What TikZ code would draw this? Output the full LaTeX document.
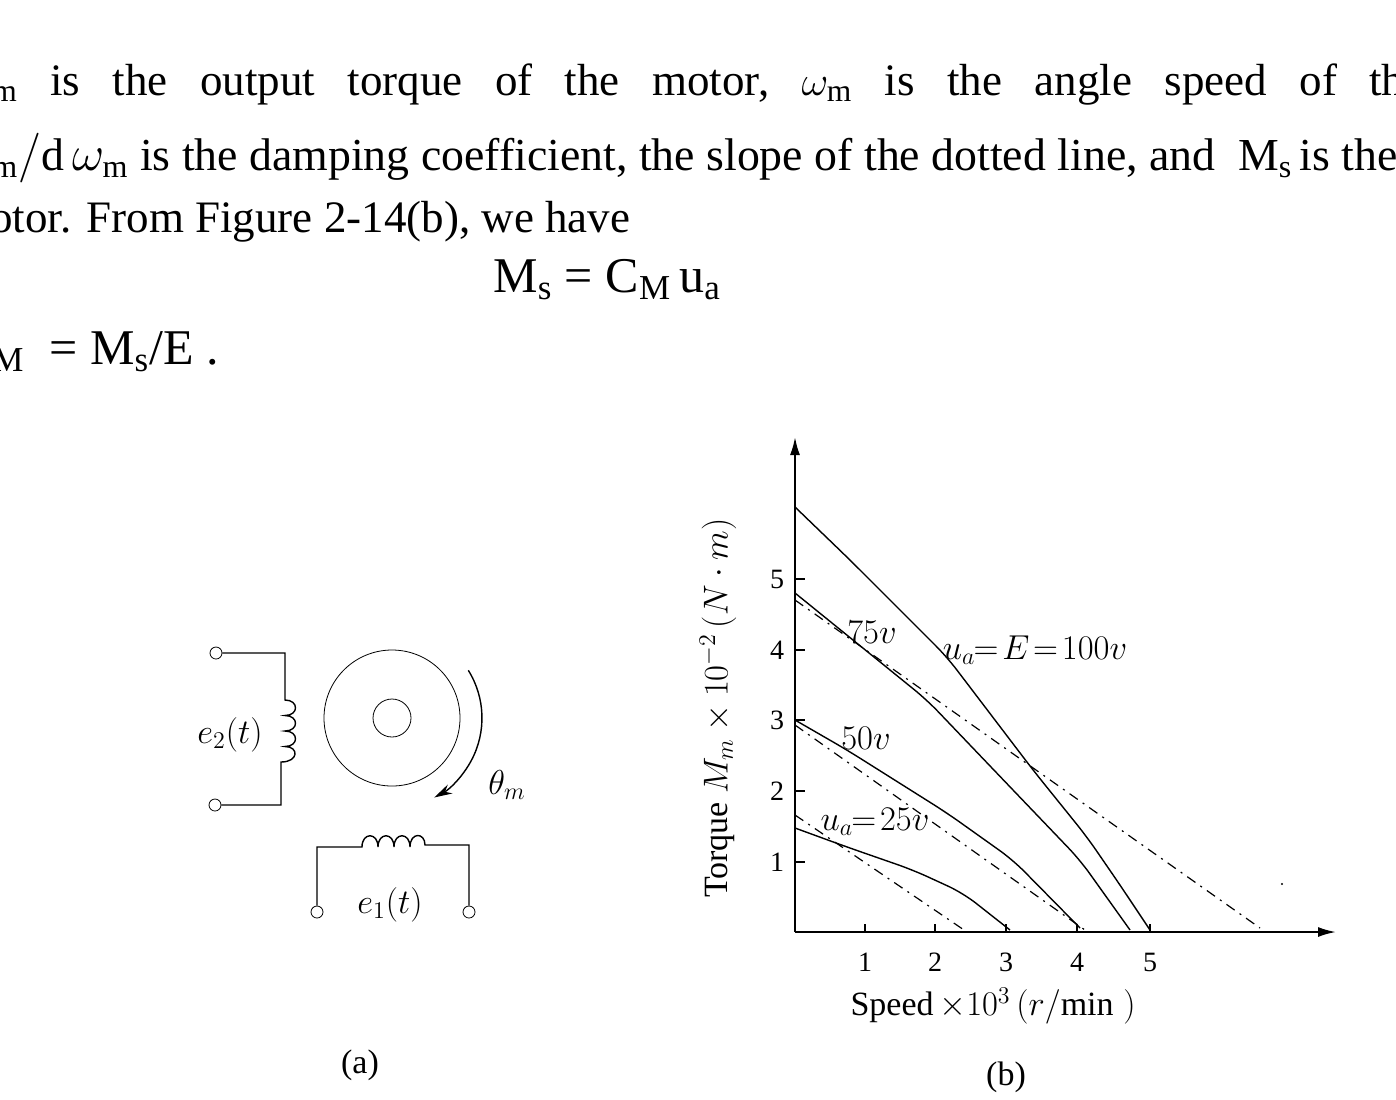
\documentclass[tikz,border=0pt]{standalone}
\usepackage{fontspec}
\setmainfont{Liberation Serif}
\usetikzlibrary{arrows.meta}
\begin{document}
\begin{tikzpicture}[x=0.5pt,y=-0.5pt,
  body/.style={anchor=base west,inner sep=0pt,font=\fontsize{22.5}{26}\selectfont},
  eqn/.style={anchor=base west,inner sep=0pt,font=\fontsize{25}{29}\selectfont},
  lbl/.style={inner sep=0pt,font=\fontsize{17}{20}\selectfont},
  tick/.style={inner sep=0pt,font=\fontsize{14}{16}\selectfont},
  term/.style={draw,circle,inner sep=0pt,minimum size=6pt,fill=white},
  curve/.style={line width=0.7pt,rounded corners=8pt},
  tang/.style={line width=0.6pt,dash pattern=on 5pt off 3pt on 1pt off 3pt},
  wire/.style={line width=0.7pt}]
\useasboundingbox (0,0) rectangle (1396,1099);
\clip (0,0) rectangle (1396,1099);
\fill[white] (0,0) rectangle (1396,1099);
% ---------- text ----------
\node[body] (l1a) at (-8,95) {\hbox to 706pt{$_{\rm m}$\hfil is\hfil the\hfil output\hfil torque\hfil of\hfil the\hfil motor,\hfil $\omega_{\rm m}$\hfil is\hfil the\hfil angle\hfil speed\hfil of\hfil th}};
\node[body,font=\fontsize{22.9}{27}\selectfont] (l2) at (-8,170) {$_{\rm m}/\mathrm{d}\,\omega_{\rm m}$ is the damping coefficient, the slope of the dotted line, and\ \ M$_{\rm s}$\,is the};
\node[body] (l3) at (-10,232) {otor. From Figure 2-14(b), we have};
\node[eqn] (eq1) at (493,292) {M$_{\rm s}$ = C$_{\rm M}$\,u$_{\rm a}$};
\node[eqn] (eq2) at (-8,364) {$_{\rm M}$\ \ = M$_{\rm s}$/E .};
% ---------- figure (a) ----------
\node[draw,circle,inner sep=0pt,minimum size=136pt/2] (rotor) at (392,718) {};
\node[draw,circle,inner sep=0pt,minimum size=38pt/2] (hub) at (392,718) {};
\node[term] (t1) at (216,653) {};
\node[term] (t2) at (215,805) {};
\draw[wire] (t1) -- (285,653) -- (285,700)
  .. controls (299,700) and (299,715.5) .. (285,715.5)
  .. controls (299,715.5) and (299,731) .. (285,731)
  .. controls (299,731) and (299,746.5) .. (285,746.5)
  .. controls (299,746.5) and (299,762) .. (281,762) -- (281,805) -- (t2);
\node[lbl] (e2) at (230,735) {$e_2(t)$};
\node[term] (t3) at (317,912) {};
\node[term] (t4) at (469,912) {};
\draw[wire] (t3) -- (317,847) -- (362,847)
  .. controls (362,832) and (378,832) .. (378,847)
  .. controls (378,832) and (394,832) .. (394,847)
  .. controls (394,832) and (410,832) .. (410,847)
  .. controls (410,832) and (425,832) .. (425,845) -- (469,845) -- (t4);
\node[lbl] (e1) at (390,905) {$e_1(t)$};
\draw[wire,-{Stealth[length=9pt,width=5pt]}] (468.3,670.3) arc(-32:62:90);
\node[lbl] (th) at (507,785) {$\theta_m$};
\node[lbl] (a) at (360,1065) {(a)};
% ---------- figure (b) ----------
\coordinate (O) at (795,932);
\draw[line width=1pt,-{Latex[length=9pt,width=5pt]}] (O) -- (1336,932);
\draw[line width=1pt,-{Latex[length=9pt,width=5pt]}] (O) -- (795,437);
\foreach \i/\x in {1/865,2/935,3/1006,4/1077,5/1150}{
  \draw[line width=0.8pt] (\x,932) -- (\x,924);
  \node[tick] at (\x,962) {\i};}
\foreach \i/\y in {1/862,2/791,3/720,4/650,5/579}{
  \draw[line width=0.8pt] (795,\y) -- (805,\y);
  \node[tick] at (777,\y) {\i};}
\draw[curve] (795,507) -- (850,560) -- (947,657) -- (1033,770) -- (1087,837) -- (1120,885) -- (1150,930);
\draw[curve] (795,593) -- (927,700) -- (1013,790) -- (1080,860) -- (1130,930);
\draw[curve] (795,720) -- (847,750) -- (947,813) -- (1013,860) -- (1080,928);
\draw[curve] (795,828) -- (847,847) -- (913,870) -- (963,893) -- (1010,930);
\draw[tang] (795,600) -- (1260,928);
\draw[tang] (795,725) -- (1085,930);
\draw[tang] (795,815) -- (967,932);
\fill (1282,884) circle (1.2);
\node[lbl] (v75) at (872,632) {$75v$};
\node[lbl] (v100) at (1035,650) {$u_a\!\!=\!E\!=\!100v$};
\node[lbl] (v50) at (866,738) {$50v$};
\node[lbl] (v25) at (875,822) {$u_a\!\!=\!25v$};
\node[lbl,rotate=90] (ylab) at (718,708) {Torque $M_m\times10^{-2}\,(N\cdot m)$};
\node[lbl] (xlab) at (993,1006) {Speed$\,\times10^3\,(r/\mathrm{min}\;)$};
\node[lbl] (b) at (1006,1077) {(b)};
\end{tikzpicture}
\end{document}
